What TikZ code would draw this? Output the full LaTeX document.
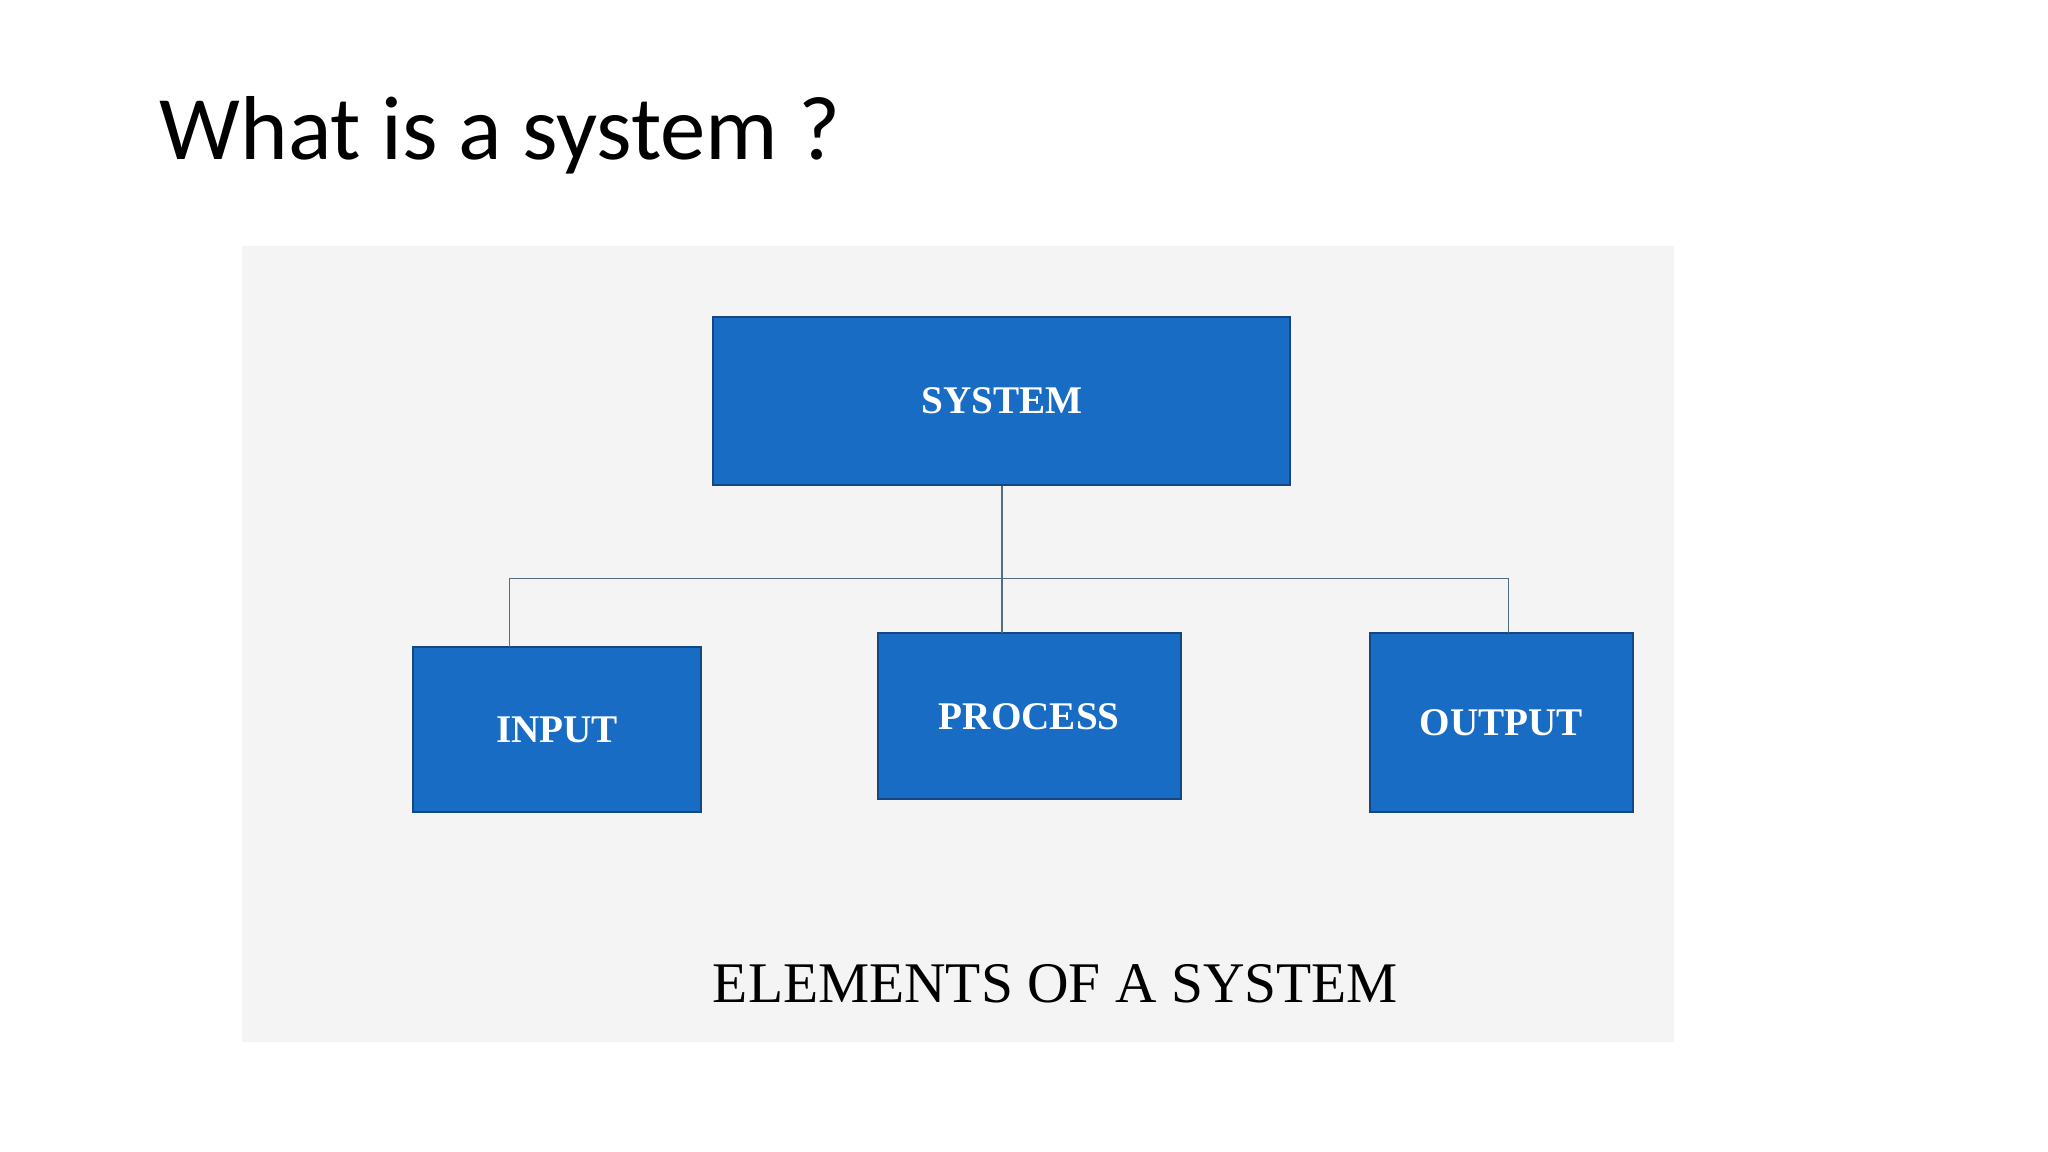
\documentclass[tikz,border=0pt]{standalone}
\usepackage{fontspec}
\setmainfont{Liberation Serif}
\newfontfamily\titlefont{Carlito}
\definecolor{boxblue}{RGB}{24,108,196}
\definecolor{boxedge}{RGB}{20,70,130}
\definecolor{panel}{RGB}{244,244,244}
\definecolor{linkc}{RGB}{80,110,130}
\begin{document}
\begin{tikzpicture}[x=1pt,y=-1pt,
  box/.style={draw=boxedge,line width=1.5pt,fill=boxblue,text=white,inner sep=0pt,font=\fontsize{30}{36}\selectfont\bfseries},
  link/.style={draw=linkc,line width=1.3pt}]
\useasboundingbox (0,0) rectangle (1568,882);
\fill[white] (0,0) rectangle (1568,882);
\fill[panel] (185,188) rectangle (1282,798);
\node[anchor=base west,inner sep=0pt,font=\titlefont\fontsize{69.5}{80}\selectfont] (title) at (122,122) {What is a system ?};
\node[box,minimum width=442pt,minimum height=128pt] (sys) at (767,307) {SYSTEM};
\node[box,minimum width=221pt,minimum height=127pt] (in) at (426.5,558.5) {INPUT};
\node[box,minimum width=232pt,minimum height=127pt] (proc) at (788,548.5) {PROCESS};
\node[box,minimum width=201pt,minimum height=137pt] (out) at (1149.5,553.5) {OUTPUT};
\coordinate (j) at (767,443);
\draw[link] (sys.south) -- (j);
\draw[link] (j) -- (767,485);
\draw[link] (390,495) |- (j) -| (1155,485);
\node[font=\fontsize{44}{52}\selectfont,inner sep=0pt] (cap) at (808,753) {ELEMENTS OF A SYSTEM};
\end{tikzpicture}
\end{document}
